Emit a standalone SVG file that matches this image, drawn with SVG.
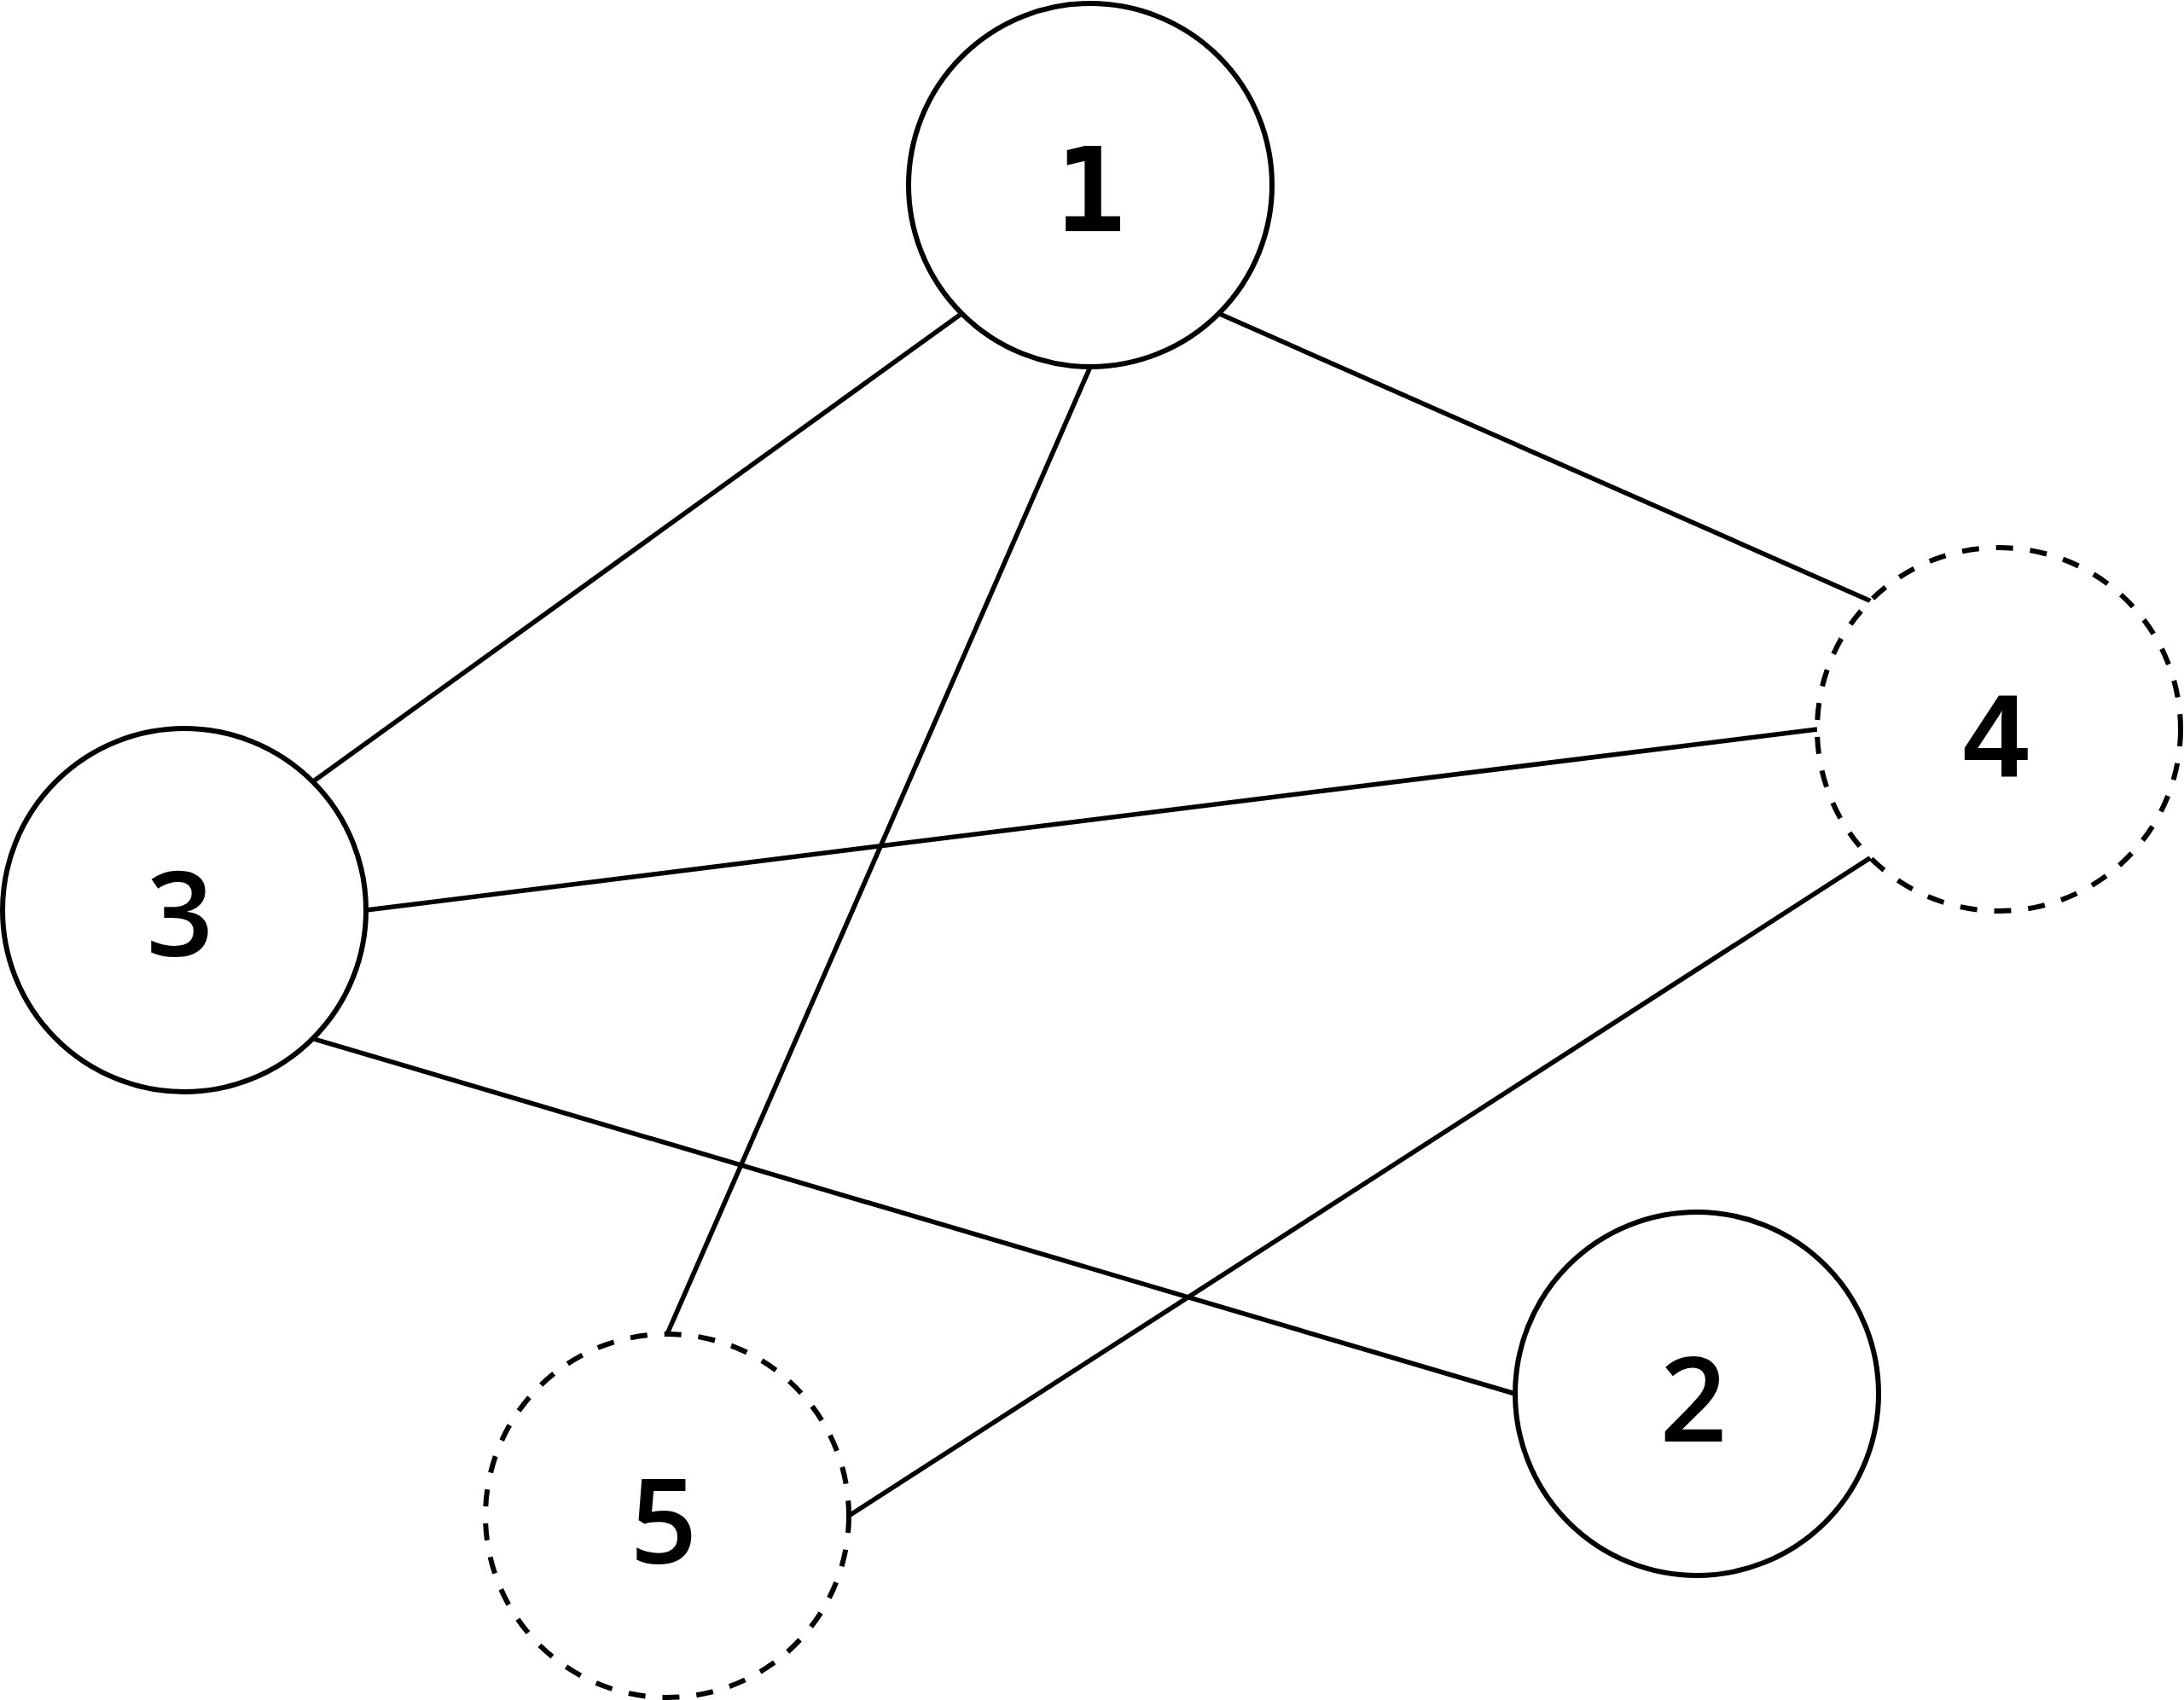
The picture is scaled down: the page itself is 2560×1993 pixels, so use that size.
<svg xmlns="http://www.w3.org/2000/svg" width="2560" height="1993" viewBox="0 0 2560 1993">
<style>
.node{fill:#fff;stroke:#000;stroke-width:6}
.dashed{stroke-dasharray:20 20}
.edge{stroke:#000;stroke-width:5.5;fill:none}
.lbl{font-size:138px;text-anchor:middle;fill:#000}
.sans{font-family:'Open Sans','Noto Sans',sans-serif;font-weight:600}
</style>
<rect width="2560" height="1993" fill="#fff"/>
<g id="connectors">
<line class="edge" x1="1127.4" y1="367.6" x2="366.6" y2="916.4"/>
<line class="edge" x1="1428.6" y1="367.6" x2="2192.4" y2="704.4"/>
<line class="edge" x1="1278" y1="430" x2="782" y2="1564"/>
<line class="edge" x1="429" y1="1067" x2="2130" y2="855"/>
<line class="edge" x1="366.6" y1="1217.6" x2="1776" y2="1634"/>
<line class="edge" x1="2192.4" y1="1005.6" x2="995" y2="1777"/>
</g>
<g id="node1">
<circle class="node" cx="1278" cy="217" r="213"/>
<text class="lbl" x="1278" y="271" font-family="'DejaVu Sans Mono', monospace" font-weight="bold">1</text>
</g>
<g id="node2">
<circle class="node" cx="1989" cy="1634" r="213"/>
<text class="lbl sans" x="1985" y="1690">2</text>
</g>
<g id="node3">
<circle class="node" cx="216" cy="1067" r="213"/>
<text class="lbl sans" x="211" y="1121">3</text>
</g>
<g id="node4">
<circle class="node dashed" cx="2343" cy="855" r="213"/>
<text class="lbl" x="2339" y="910" font-family="'Liberation Sans', sans-serif" font-weight="bold">4</text>
</g>
<g id="node5">
<circle class="node dashed" cx="782" cy="1777" r="213"/>
<text class="lbl sans" x="778" y="1833">5</text>
</g>
</svg>
